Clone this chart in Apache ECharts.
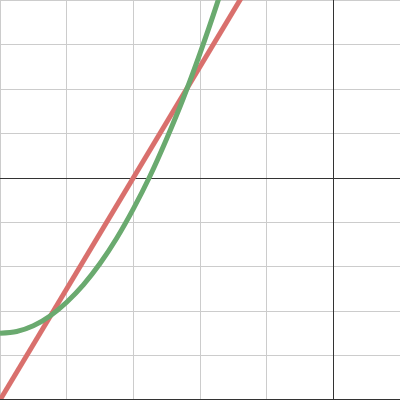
<!DOCTYPE html>
<html>
<head>
<meta charset="utf-8">
<script src="https://cdn.jsdelivr.net/npm/echarts@6/dist/echarts.min.js"></script>
<style>html,body{margin:0;padding:0;background:#fff}#chart{width:400px;height:400px}</style>
</head>
<body>
<div id="chart"></div>
<script>
const lineX = [-5, -1.3];
const lineY = [-5, 4.25];
const curveX = [-5, -4.75, -4.5, -4.25, -4, -3.75, -3.5, -3.25, -3, -2.75, -2.5, -2.25, -2, -1.75, -1.5];
const curveY = [-3.5, -3.46, -3.33, -3.11, -2.8, -2.41, -1.93, -1.36, -0.7, 0.04, 0.88, 1.79, 2.8, 3.89, 5.08];

const chart = echarts.init(document.getElementById('chart'));
const pairs = (xs, ys) => xs.map((x, i) => [x, ys[i]]);
chart.setOption({
	animation: false,
	grid: { left: 0, right: 0, top: 0, bottom: 0 },
	xAxis: {
		type: 'value', min: -5, max: 1, interval: 1,
		axisLine: { show: true, onZero: true, lineStyle: { color: '#333', width: 1 } },
		axisTick: { show: false }, axisLabel: { show: false },
		splitLine: { show: true, lineStyle: { color: '#ccc', width: 1 } }
	},
	yAxis: {
		type: 'value', min: -5, max: 4, interval: 1,
		axisLine: { show: true, onZero: true, lineStyle: { color: '#333', width: 1 } },
		axisTick: { show: false }, axisLabel: { show: false },
		splitLine: { show: true, lineStyle: { color: '#ccc', width: 1 } }
	},
	series: [
		{
			type: 'line', data: pairs(lineX, lineY), showSymbol: false,
			lineStyle: { color: '#d9706d', width: 5 },
			markLine: {
				silent: true, symbol: 'none', label: { show: false },
				lineStyle: { color: '#333', width: 2, type: 'solid' },
				data: [{ yAxis: -5 }]
			}
		},
		{
			type: 'line', data: pairs(curveX, curveY), showSymbol: false, smooth: 0.3,
			lineStyle: { color: '#6aaa6f', width: 5 }
		}
	]
});
</script>
</body>
</html>
